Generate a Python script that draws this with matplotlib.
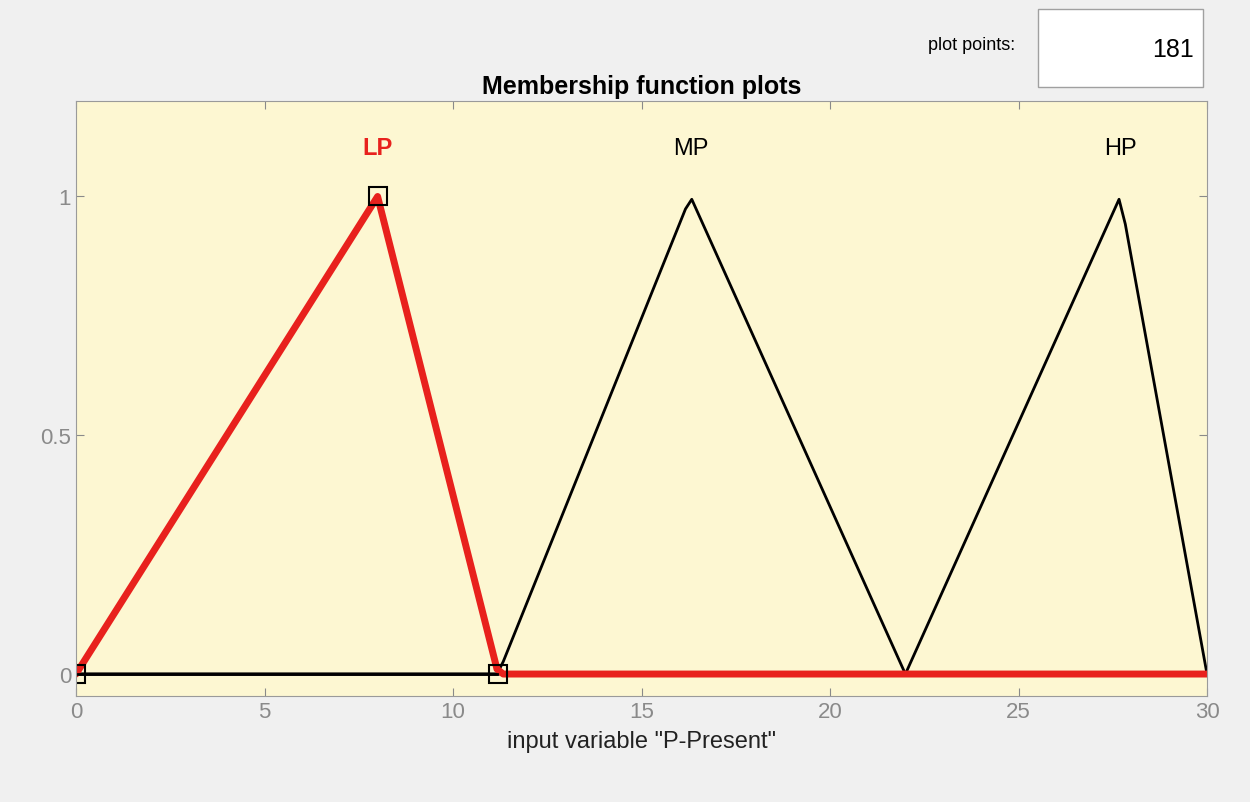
import numpy as np
import matplotlib.pyplot as plt
from matplotlib.patches import Rectangle

plt.rcParams['font.family'] = ['Liberation Sans', 'DejaVu Sans']

# membership function params (trimf)
mf_names = ['LP', 'MP', 'HP']
mf_params = [[0, 8, 11.2], [11.2, 16.3, 22], [22, 27.7, 30]]
n_points = 181

x = np.linspace(0, 30, n_points)

def trimf(x, a, b, c):
    left = (x - a) / max(b - a, 1e-9)
    right = (c - x) / max(c - b, 1e-9)
    return np.clip(np.minimum(left, right), 0, 1)

fig = plt.figure(figsize=(12.5, 8.03), dpi=100, facecolor='#f0f0f0')
ax = fig.add_axes([0.0608, 0.132, 0.9048, 0.741])
ax.set_facecolor('#fdf7d2')

# unselected MFs in black, selected LP in red
for name, p in zip(mf_names[1:], mf_params[1:]):
    ax.plot(x, trimf(x, *p), color='black', lw=2)
ax.plot(x, trimf(x, *mf_params[0]), color='#e8211d', lw=5, solid_capstyle='round')
mask = x <= mf_params[0][2]
ax.plot(x[mask], np.zeros(mask.sum()), color='black', lw=2)
ax.plot(mf_params[0], [0, 1, 0], 's', mfc='none', mec='black', ms=13, mew=1.5)

for i, (name, p) in enumerate(zip(mf_names, mf_params)):
    if i == 0:
        ax.text(p[1], 1.09, name, color='#e8211d', fontweight='bold', fontsize=17, ha='center')
    else:
        ax.text(p[1], 1.09, name, color='black', fontsize=17, ha='center')

ax.set_xlim(0, 30)
ax.set_ylim(-0.046, 1.2)
ax.set_xticks([0, 5, 10, 15, 20, 25, 30])
ax.set_yticks([0, 0.5, 1])
ax.set_yticklabels(['0', '0.5', '1'])
ax.tick_params(colors='#8a8a8a', labelsize=16, direction='in', top=True, right=True, length=6)
for s in ax.spines.values():
    s.set_color('#9a9a9a')
ax.set_xlabel('input variable "P-Present"', fontsize=17, color='#222222', labelpad=6)
ax.set_title('Membership function plots', fontsize=18, fontweight='bold', pad=6)

fig.text(0.812, 0.943, 'plot points:', fontsize=13, ha='right', va='center')
fig.patches.append(Rectangle((0.83, 0.89), 0.132, 0.097, transform=fig.transFigure,
                             facecolor='white', edgecolor='#a0a0a0', lw=1))
fig.text(0.955, 0.938, str(n_points), fontsize=18, ha='right', va='center')

fig.savefig('out.png', dpi=100, facecolor=fig.get_facecolor())
